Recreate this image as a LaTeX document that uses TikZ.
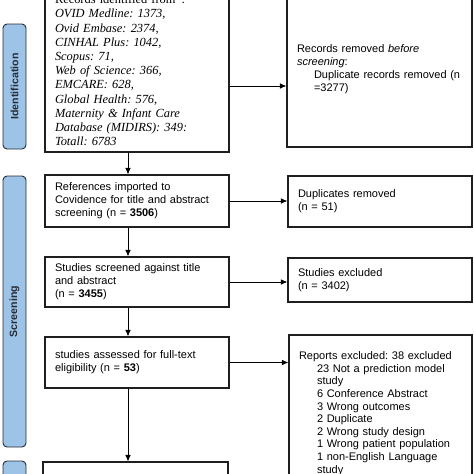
\documentclass[tikz,border=0pt]{standalone}
\usepackage{fontspec}
\setmainfont{Liberation Sans}
\newfontfamily\serifit{Liberation Serif}
\usepackage{tikz}
\usetikzlibrary{arrows.meta}
\frenchspacing

\definecolor{barblue}{RGB}{157,195,230}
\definecolor{bardark}{RGB}{38,44,56}

\tikzset{
  box/.style={draw=black!88, line width=1.1pt, rectangle, inner xsep=10pt, inner ysep=2pt,
    align=left, font=\fontsize{11}{13}\selectfont},
  bar/.style={draw=bardark, line width=0.9pt, fill=barblue, rounded corners=4pt, rotate=90,
    inner sep=0pt, text=bardark, font=\fontsize{10.6}{12}\selectfont\bfseries},
  arr/.style={-{Latex[length=6.5pt,width=5.5pt]}, line width=0.8pt, black}
}

\begin{document}
\begin{tikzpicture}[x=1pt, y=-1pt]
			\useasboundingbox (0,0) rectangle (474,474);
			\clip (0,0) rectangle (474,474);

			% phase bars
			\node (idbar) [bar, minimum width=125, minimum height=23] at (14.5,86.5) {Identification};
			\node (scrbar) [bar, minimum width=271, minimum height=23] at (14.5,311.5) {Screening};
			\node (incbar) [bar, minimum width=100, minimum height=23] at (14.5,511) {};

			% main column
			\node (src) [box, minimum width=184, minimum height=163, text width=164,
				font=\serifit\fontsize{12.4}{14.2}\selectfont] at (137,70.5) {%
				Records identified from*:\\
				\textit{OVID Medline: 1373,}\\
				\textit{Ovid Embase: 2374,}\\
				\textit{CINHAL Plus: 1042,}\\
				\textit{Scopus: 71,}\\
				\textit{Web of Science: 366,}\\
				\textit{EMCARE: 628,}\\
				\textit{Global Health: 576,}\\
				\textit{Maternity \& Infant Care}\\
				\textit{Database (MIDIRS): 349:}\\
				\textit{Totall: 6783}};
			\node (ref) [box, minimum width=184, minimum height=52, text width=164] at (137,201) {%
				References imported to\\
				Covidence for title and abstract\\
				screening (n = \textbf{3506})};
			\node (scr) [box, minimum width=184, minimum height=50, text width=164] at (137,282) {%
				Studies screened against title\\
				and abstract\\
				(n = \textbf{3455})};
			\node (ful) [box, minimum width=184, minimum height=51, text width=164] at (137,362.5) {%
				studies assessed for full-text\\
				eligibility (n = \textbf{53})};
			\node (inc) [box, minimum width=185, minimum height=98] at (135.5,511) {};

			% side column
			\node (rmv) [box, minimum width=185, minimum height=156, text width=165] at (379.5,69) {%
				Records removed \textit{before}\\
				\textit{screening}:\\
				\hspace*{17pt}Duplicate records removed (n\\
				\hspace*{17pt}=3277)};
			\node (dup) [box, minimum width=184, minimum height=51, text width=164] at (380,201.5) {%
				Duplicates removed\\
				(n = 51)};
			\node (exc) [box, minimum width=184, minimum height=44, text width=164] at (380,280) {%
				Studies excluded\\
				(n = 3402)};
			\node (rep) [box, minimum width=183, minimum height=157, text width=163,
				font=\fontsize{11}{12.6}\selectfont] at (380.5,413.5) {%
				Reports excluded: 38 excluded\\
				\hspace*{18pt}23 Not a prediction model\\
				\hspace*{18pt}study\\
				\hspace*{18pt}6 Conference Abstract\\
				\hspace*{18pt}3 Wrong outcomes\\
				\hspace*{18pt}2 Duplicate\\
				\hspace*{18pt}2 Wrong study design\\
				\hspace*{18pt}1 Wrong patient population\\
				\hspace*{18pt}1 non-English Language\\
				\hspace*{18pt}study};

			\coordinate (flow) at (128,0);
			\coordinate (side) at (0,86);

			\draw [arr] (src.south -| flow) -- (ref.north -| flow);
			\draw [arr] (ref.south -| flow) -- (scr.north -| flow);
			\draw [arr] (scr.south -| flow) -- (ful.north -| flow);
			\draw [arr] (ful.south -| flow) -- (inc.north -| flow);

			\draw [arr] (src.east |- side) -- (rmv.west |- side);
			\draw [arr] (ref.east) -- (ref.east -| dup.west);
			\draw [arr] (scr.east) -- (scr.east -| exc.west);
			\draw [arr] (ful.east) -- (ful.east -| rep.west);
\end{tikzpicture}
\end{document}
